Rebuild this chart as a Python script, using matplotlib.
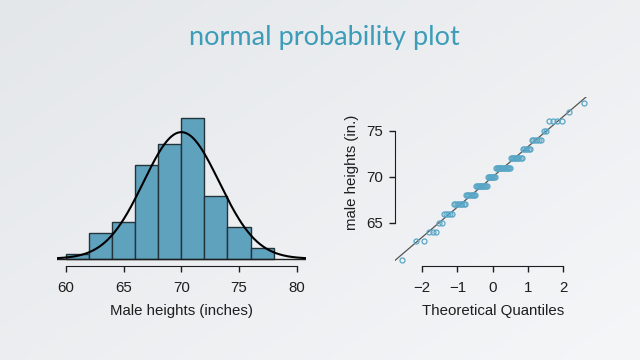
import numpy as np
import matplotlib
matplotlib.use("Agg")
import matplotlib.pyplot as plt
from statistics import NormalDist

# ---- data ----
heights = [61, 63, 64, 65, 66, 67, 68, 69, 70, 71, 72, 73, 74, 75, 76, 77, 78]
counts = [1, 2, 3, 2, 5, 9, 9, 13, 9, 16, 11, 6, 6, 2, 4, 1, 1]
bin_edges = [60, 62, 64, 66, 68, 70, 72, 74, 76, 78]
hist_xticks = [60, 65, 70, 75, 80]
qq_xticks = [-2, -1, 0, 1, 2]
qq_yticks = [65, 70, 75]
title = "normal probability plot"
hist_xlabel = "Male heights (inches)"
qq_xlabel = "Theoretical Quantiles"
qq_ylabel = "male heights (in.)"

# ---- derived ----
data = np.repeat(np.array(heights, float), counts)
n = data.size
mean = data.mean()
sd = data.std(ddof=1)
edges = np.array(bin_edges, float)
idx = np.digitize(data, edges, right=True)  # right-closed bins like R
hist_counts = np.array([(idx == i).sum() for i in range(1, len(edges))])
bw = edges[1] - edges[0]
nd = NormalDist()
theo = np.array([nd.inv_cdf((i - 0.5) / n) for i in range(1, n + 1)])
sample = np.sort(data)

plt.rcParams['font.family'] = ['Liberation Sans', 'DejaVu Sans']
W, H = 640, 360
fig = plt.figure(figsize=(6.4, 3.6), dpi=100)

# background gradient
bg = fig.add_axes([0, 0, 1, 1], zorder=-10)
yy, xx = np.mgrid[0:1:90j, 0:1:160j]
t = np.clip(0.55 * xx + 0.45 * yy, 0, 1)
c0 = np.array([228, 231, 234]) / 255
c1 = np.array([245, 246, 248]) / 255
img = c0[None, None, :] * (1 - t[..., None]) + c1[None, None, :] * t[..., None]
bg.imshow(img, aspect='auto', extent=[0, 1, 0, 1], origin='upper', interpolation='bilinear')
bg.axis('off')

fig.text(324 / W, 1 - 37 / H, title, ha='center', va='center', color='#3d9db8',
         fontsize=19.5, fontweight='normal', family=['Lato', 'DejaVu Sans'])

ink = '#1e1e1e'
lab_fs = 10.8

def px_axes(l, r, t_, b):
    return [l / W, 1 - b / H, (r - l) / W, (b - t_) / H]

# ---- histogram ----
hl, hr, ht, hb = 56.8, 305.9, 96.8, 266.0
ax1 = fig.add_axes(px_axes(hl, hr, ht, hb))
ax1.patch.set_alpha(0)
ppc = 5.2  # px per count
ybot = -(hb - 258.7) / ppc
ytop = ybot + (hb - ht) / ppc
ax1.bar(edges[:-1], hist_counts, width=bw, align='edge', color='#5fa2be',
        edgecolor='#23343b', linewidth=1.0, zorder=2)
ax1.set_xlim(59.2, 80.8)
ax1.set_ylim(ybot, ytop)
ax1.axhline(0, color=ink, lw=1.0, zorder=3)
xs = np.linspace(59.2, 80.8, 400)
dens = np.exp(-0.5 * ((xs - mean) / sd) ** 2) / (sd * np.sqrt(2 * np.pi)) * n * bw
ax1.plot(xs, dens, color='black', lw=1.5, zorder=4)
for s in ['top', 'right', 'left']:
    ax1.spines[s].set_visible(False)
ax1.spines['bottom'].set_bounds(hist_xticks[0], hist_xticks[-1])
ax1.spines['bottom'].set_color(ink)
ax1.set_xticks(hist_xticks)
ax1.set_yticks([])
ax1.tick_params(axis='x', direction='out', length=4, width=1, color=ink,
                pad=7, labelsize=lab_fs, labelcolor=ink)
ax1.set_xlabel(hist_xlabel, fontsize=lab_fs, color=ink)
ax1.xaxis.set_label_coords(0.5, -(311 - hb) / (hb - ht))
ax1.xaxis.label.set_va('center')

# ---- QQ plot ----
ql, qr, qt, qb = 394.5, 591.0, 96.8, 266.0
ax2 = fig.add_axes(px_axes(ql, qr, qt, qb))
ax2.patch.set_alpha(0)
xr = theo.max() - theo.min()
yr = sample.max() - sample.min()
ax2.set_xlim(theo.min() - 0.04 * xr, theo.max() + 0.04 * xr)
ax2.set_ylim(sample.min() - 0.04 * yr, sample.max() + 0.04 * yr)
ax2.plot(theo, sample, linestyle='none', marker='o', markersize=3.6,
         markerfacecolor='none', markeredgecolor='#5aa6c6', markeredgewidth=0.9, zorder=3)
lx = np.array(ax2.get_xlim())
ax2.plot(lx, mean + sd * lx, color='#555555', lw=0.9, zorder=2)
for s in ['top', 'right']:
    ax2.spines[s].set_visible(False)
ax2.spines['bottom'].set_bounds(qq_xticks[0], qq_xticks[-1])
ax2.spines['left'].set_bounds(qq_yticks[0], qq_yticks[-1])
ax2.spines['bottom'].set_color(ink)
ax2.spines['left'].set_color(ink)
ax2.set_xticks(qq_xticks)
ax2.set_xticklabels(['\u22122', '\u22121', '0', '1', '2'])
ax2.set_yticks(qq_yticks)
ax2.tick_params(axis='both', direction='out', length=4, width=1, color=ink,
                labelsize=lab_fs, labelcolor=ink)
ax2.tick_params(axis='x', pad=7)
ax2.tick_params(axis='y', pad=4)
ax2.set_xlabel(qq_xlabel, fontsize=lab_fs, color=ink)
ax2.xaxis.set_label_coords(0.5, -(311 - qb) / (qb - qt))
ax2.xaxis.label.set_va('center')
ax2.set_ylabel(qq_ylabel, fontsize=lab_fs, color=ink)
ax2.yaxis.set_label_coords(-(ql - 352) / (qr - ql), (qb - 172) / (qb - qt))
ax2.yaxis.label.set_va('center')

fig.savefig('out.png', dpi=100)
